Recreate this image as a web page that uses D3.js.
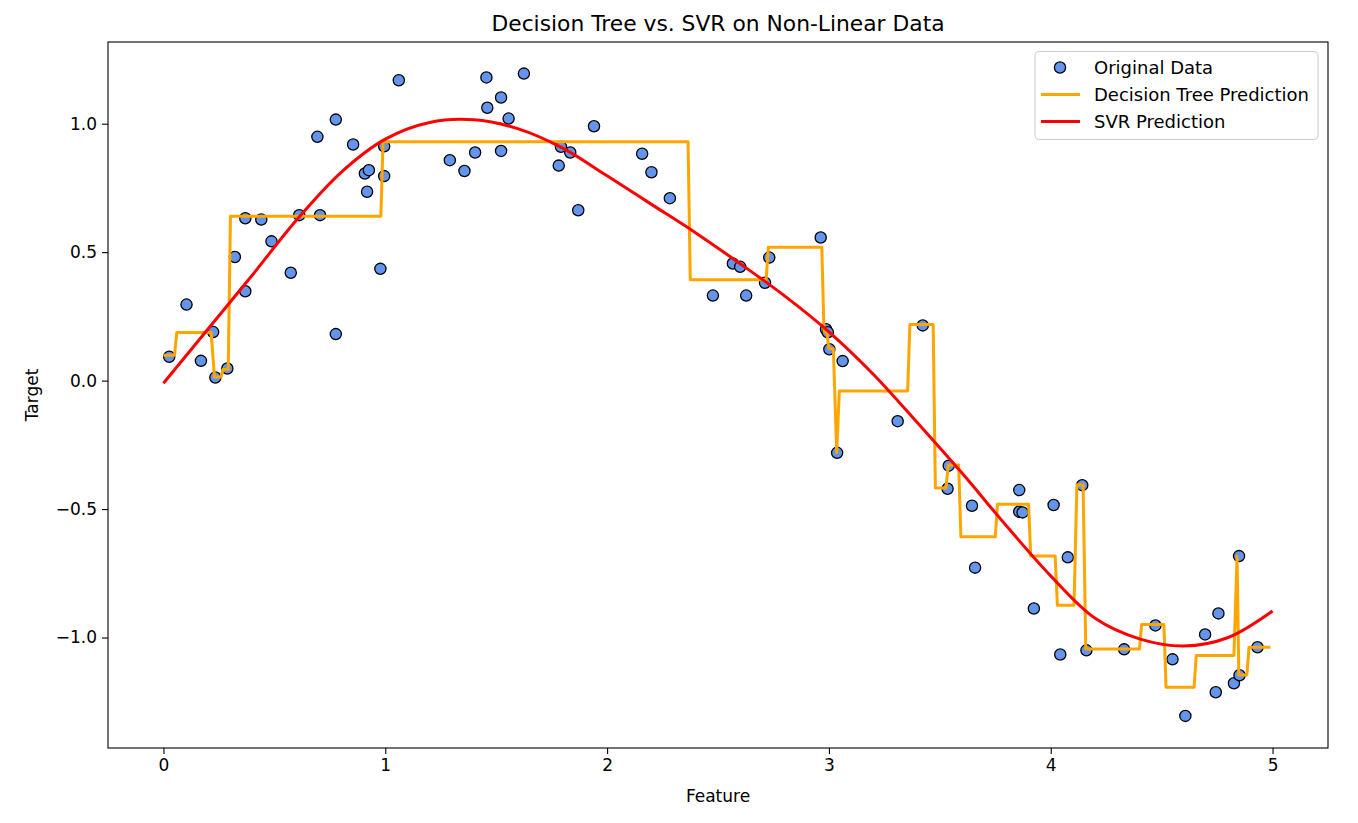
<!DOCTYPE html>
<html>
<head>
<meta charset="utf-8">
<script src="https://cdn.jsdelivr.net/npm/d3@7"></script>
<style>
  html, body { margin: 0; padding: 0; background: #fff; }
  svg { display: block; font-family: "DejaVu Sans", sans-serif; }
</style>
</head>
<body>
<svg id="chart" width="1358" height="823"></svg>
<script>
// ---- data ----
const pointsX = [0.026,0.104,0.169,0.224,0.234,0.288,0.322,0.369,0.369,0.441,
  0.487,0.574,0.612,0.694,0.706,0.777,0.777,0.855,0.908,0.918,
  0.926,0.978,0.995,0.995,1.061,1.291,1.357,1.405,1.456,1.460,
  1.522,1.522,1.556,1.625,1.782,1.792,1.834,1.870,1.941,2.158,
  2.200,2.283,2.477,2.567,2.600,2.627,2.712,2.731,2.963,2.987,
  2.995,3.002,3.037,3.062,3.310,3.423,3.535,3.540,3.645,3.659,
  3.858,3.858,3.873,3.924,4.013,4.043,4.077,4.142,4.161,4.331,
  4.472,4.549,4.607,4.696,4.744,4.756,4.826,4.849,4.851,4.932];
const pointsY = [0.093,0.296,0.077,0.189,0.012,0.047,0.481,0.348,0.632,0.627,
  0.542,0.420,0.644,0.949,0.644,1.016,0.181,0.919,0.806,0.735,
  0.819,0.435,0.796,0.912,1.169,0.858,0.816,0.888,1.180,1.062,
  1.102,0.894,1.020,1.195,0.837,0.910,0.888,0.663,0.990,0.883,
  0.811,0.710,0.331,0.456,0.443,0.331,0.381,0.479,0.557,0.200,
  0.188,0.122,-0.281,0.076,-0.158,0.215,-0.421,-0.331,-0.487,-0.728,
  -0.426,-0.510,-0.513,-0.887,-0.484,-1.066,-0.688,-0.407,-1.050,-1.046,
  -0.953,-1.085,-1.305,-0.988,-1.213,-0.906,-1.178,-0.683,-1.147,-1.038];

// Decision tree prediction (vertices of the step line)
const treeX = [0.000,0.050,0.060,0.215,0.230,0.260,0.268,0.292,0.302,0.980,
  0.990,2.365,2.375,2.717,2.727,2.968,2.978,2.990,3.000,3.020,
  3.035,3.047,3.355,3.365,3.470,3.480,3.528,3.538,3.585,3.595,
  3.750,3.760,3.900,3.910,4.020,4.030,4.105,4.118,4.146,4.158,
  4.400,4.410,4.510,4.520,4.646,4.656,4.826,4.840,4.848,4.884,
  4.894,4.990];
const treeY = [0.099,0.099,0.187,0.187,0.014,0.014,0.043,0.043,0.640,0.640,
  0.930,0.930,0.393,0.393,0.519,0.519,0.190,0.190,0.125,0.125,
  -0.281,-0.040,-0.040,0.218,0.218,-0.418,-0.418,-0.328,-0.328,-0.608,
  -0.608,-0.481,-0.481,-0.683,-0.683,-0.874,-0.874,-0.405,-0.405,-1.045,
  -1.045,-0.949,-0.949,-1.194,-1.194,-1.070,-1.070,-0.684,-1.146,-1.146,
  -1.038,-1.038];

// SVR prediction (curve samples)
const svrX = [0,0.2,0.4,0.6,0.8,1.0,1.2,1.4,1.6,1.8,2.0,2.2,2.4,2.6,2.8,
  3.0,3.2,3.4,3.6,3.8,4.0,4.2,4.4,4.6,4.8,5.0];
const svrY = [-0.01,0.20,0.41,0.625,0.81,0.94,1.005,1.015,0.98,0.905,0.797,
  0.686,0.575,0.455,0.33,0.19,0.025,-0.165,-0.36,-0.565,-0.76,-0.925,-1.005,
  -1.033,-1.0,-0.897];

const xTicks = [0,1,2,3,4,5];
const yTicks = [-1.0,-0.5,0.0,0.5,1.0];
const legendLabels = ["Original Data","Decision Tree Prediction","SVR Prediction"];

// ---- layout ----
const svg = d3.select("#chart");
const L = 108, R = 1328, T = 42, B = 748;
const x = d3.scaleLinear().domain([-0.25, 5.25]).range([L, R]);
const y = d3.scaleLinear().domain([-1.43, 1.318]).range([B, T]);
const FS = 17;

// title
svg.append("text").attr("x", (L + R) / 2).attr("y", 31)
  .attr("text-anchor", "middle").attr("font-size", 21.8).attr("fill", "#000")
  .text("Decision Tree vs. SVR on Non-Linear Data");

// axes
const xAxis = d3.axisBottom(x).tickValues(xTicks).tickFormat(d3.format("d"))
  .tickSize(6).tickPadding(5);
const gx = svg.append("g").attr("transform", `translate(0,${B})`).call(xAxis);
gx.select(".domain").remove();
gx.selectAll("text").attr("font-size", FS).attr("font-family", "DejaVu Sans").attr("fill", "#000");
gx.selectAll("line").attr("stroke", "#000").attr("stroke-width", 1.1);

const yAxis = d3.axisLeft(y).tickValues(yTicks)
  .tickFormat(d => d3.format(".1f")(d).replace("-", "\u2212"))
  .tickSize(6).tickPadding(5);
const gy = svg.append("g").attr("transform", `translate(${L},0)`).call(yAxis);
gy.select(".domain").remove();
gy.selectAll("text").attr("font-size", FS).attr("font-family", "DejaVu Sans").attr("fill", "#000");
gy.selectAll("line").attr("stroke", "#000").attr("stroke-width", 1.1);

// axis labels
svg.append("text").attr("x", (L + R) / 2).attr("y", 802)
  .attr("text-anchor", "middle").attr("font-size", FS).text("Feature");
svg.append("text").attr("transform", `translate(38,${(T + B) / 2}) rotate(-90)`)
  .attr("text-anchor", "middle").attr("font-size", FS).text("Target");

// clip
svg.append("clipPath").attr("id", "clip").append("rect")
  .attr("x", L).attr("y", T).attr("width", R - L).attr("height", B - T);
const plot = svg.append("g").attr("clip-path", "url(#clip)");

// scatter
const pts = pointsX.map((v, i) => ({ x: v, y: pointsY[i] }));
plot.selectAll("circle.pt").data(pts).enter().append("circle")
  .attr("class", "pt")
  .attr("cx", d => x(d.x)).attr("cy", d => y(d.y)).attr("r", 5.6)
  .attr("fill", "#6495ED").attr("stroke", "#000").attr("stroke-width", 1.3);

// decision tree line
const treePts = treeX.map((v, i) => [v, treeY[i]]);
const lineLin = d3.line().x(d => x(d[0])).y(d => y(d[1]));
plot.append("path").attr("d", lineLin(treePts))
  .attr("fill", "none").attr("stroke", "#FFA500").attr("stroke-width", 3)
  .attr("stroke-linejoin", "round");

// svr line
const svrPts = svrX.map((v, i) => [v, svrY[i]]);
const lineCurve = d3.line().x(d => x(d[0])).y(d => y(d[1])).curve(d3.curveCatmullRom.alpha(0.5));
plot.append("path").attr("d", lineCurve(svrPts))
  .attr("fill", "none").attr("stroke", "#FF0000").attr("stroke-width", 3)
  .attr("stroke-linejoin", "round");

// frame
svg.append("rect").attr("x", L).attr("y", T).attr("width", R - L).attr("height", B - T)
  .attr("fill", "none").attr("stroke", "#000").attr("stroke-width", 1.1);

// legend
const LFS = 18;
const lg = svg.append("g");
lg.append("rect").attr("x", 1035).attr("y", 51.5).attr("width", 283).attr("height", 88)
  .attr("rx", 4).attr("fill", "#fff").attr("fill-opacity", 0.8)
  .attr("stroke", "#cccccc").attr("stroke-width", 1);
const rowY = [67.5, 94.5, 121.5];
lg.append("circle").attr("cx", 1060).attr("cy", rowY[0]).attr("r", 5.6)
  .attr("fill", "#6495ED").attr("stroke", "#000").attr("stroke-width", 1.3);
lg.append("line").attr("x1", 1041).attr("x2", 1080).attr("y1", rowY[1]).attr("y2", rowY[1])
  .attr("stroke", "#FFA500").attr("stroke-width", 3);
lg.append("line").attr("x1", 1041).attr("x2", 1080).attr("y1", rowY[2]).attr("y2", rowY[2])
  .attr("stroke", "#FF0000").attr("stroke-width", 3);
lg.selectAll("text.lt").data(legendLabels).enter().append("text")
  .attr("class", "lt").attr("x", 1094).attr("y", (d, i) => rowY[i] + 6.5)
  .attr("font-size", LFS).attr("fill", "#000").text(d => d);
</script>
</body>
</html>
